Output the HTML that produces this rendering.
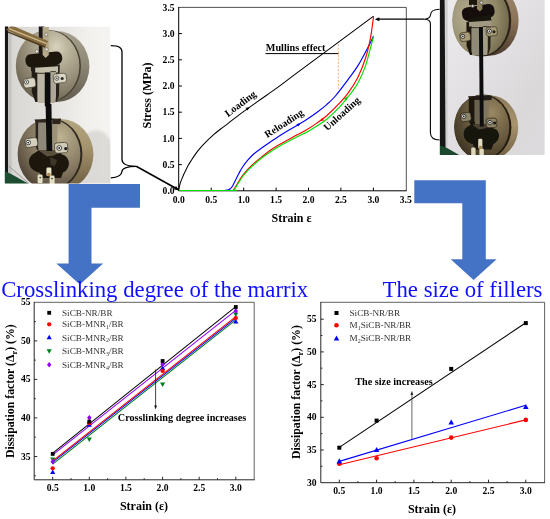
<!DOCTYPE html>
<html lang="en"><head><meta charset="utf-8"><title>Graphical abstract</title>
<style>
html,body{margin:0;padding:0;background:#fff;}
body{width:550px;height:519px;overflow:hidden;font-family:"Liberation Serif", "DejaVu Serif", serif;}
svg{display:block;}
text{font-family:"Liberation Serif", "DejaVu Serif", serif;}
.tk{font-size:9.6px;font-weight:bold;fill:#000;}
.tk2{font-size:9.6px;font-weight:bold;fill:#000;}
.ax{font-size:12px;font-weight:bold;fill:#000;}
.b10{font-size:10.2px;font-weight:bold;fill:#000;}
.lg{font-size:9.2px;fill:#333;}
.ax2{font-size:11.8px;font-weight:bold;fill:#000;}
.ttl{font-size:22.75px;fill:#1010ff;}
</style></head><body>
<svg width="550" height="519" viewBox="0 0 550 519">
<rect width="550" height="519" fill="#fff"/>

<defs>
<clipPath id="clL"><rect x="4.8" y="26.5" width="105.6" height="157"/></clipPath>
<filter id="bl06" x="-5%" y="-5%" width="110%" height="110%"><feGaussianBlur stdDeviation="0.5"/></filter>
<filter id="bl15" x="-20%" y="-20%" width="140%" height="140%"><feGaussianBlur stdDeviation="1.6"/></filter>
<linearGradient id="bgL" x1="0" y1="0" x2="1" y2="0">
<stop offset="0" stop-color="#d4d2ce"/><stop offset="0.12" stop-color="#dbd9d5"/><stop offset="0.5" stop-color="#e6e4e0"/><stop offset="0.8" stop-color="#f3f1ee"/><stop offset="1" stop-color="#f6f4f2"/>
</linearGradient>
<radialGradient id="dL1" cx="0.64" cy="0.24" r="0.88">
<stop offset="0" stop-color="#d8d3be"/><stop offset="0.2" stop-color="#bdb69e"/><stop offset="0.48" stop-color="#a09882"/><stop offset="0.76" stop-color="#7e7662"/><stop offset="1" stop-color="#5a5142"/>
</radialGradient>
<radialGradient id="dL2" cx="0.68" cy="0.26" r="0.9">
<stop offset="0" stop-color="#beb392"/><stop offset="0.25" stop-color="#a2967a"/><stop offset="0.55" stop-color="#837660"/><stop offset="0.8" stop-color="#5e5342"/><stop offset="1" stop-color="#40362a"/>
</radialGradient>
<linearGradient id="sideL1" x1="0" y1="0" x2="0" y2="1">
<stop offset="0" stop-color="#a6a08e"/><stop offset="0.45" stop-color="#8e8876"/><stop offset="1" stop-color="#625c4e"/>
</linearGradient>
<linearGradient id="sideL2" x1="0" y1="0" x2="0" y2="1">
<stop offset="0" stop-color="#b4a682"/><stop offset="0.4" stop-color="#a4936c"/><stop offset="1" stop-color="#6a5a40"/>
</linearGradient>
</defs>
<g id="photoL" clip-path="url(#clL)">
<rect x="4.8" y="26.5" width="105.6" height="157" fill="url(#bgL)"/>
<ellipse cx="96" cy="170" rx="22" ry="40" fill="#c9c7c4" opacity="0.55" filter="url(#bl15)"/>
<g filter="url(#bl06)">
<!-- left frame -->
<rect x="8" y="20" width="3.6" height="170" fill="#c2c2c0"/>
<rect x="4.6" y="20" width="3.4" height="170" fill="#141414"/>
<!-- green base -->
<path d="M4 170.5L12 174.5L29 184H4Z" fill="#1f4d30"/>
<path d="M8.5 166L29 183.5" stroke="#8e8e88" stroke-width="0.8" fill="none"/>
<!-- upper disc: side then face -->
<ellipse cx="57" cy="66.5" rx="32.4" ry="35.4" fill="url(#sideL1)"/>
<ellipse cx="48.8" cy="66" rx="32.2" ry="36" fill="#4a4232"/>
<ellipse cx="47.6" cy="65.8" rx="31.8" ry="35.6" fill="url(#dL1)"/>
<!-- vertical slot at top -->
<rect x="38.8" y="24" width="5.4" height="30" fill="#1c1812"/>
<!-- cavity band (tilted) -->
<g transform="rotate(-6 43.5 59)">
<rect x="25.4" y="52.8" width="36.8" height="13" rx="5.5" fill="#1a160f"/>
<rect x="30" y="64" width="27" height="6" fill="#1a1610"/>
</g>
<!-- side channels -->
<path d="M31.6 66.5L37.6 66V102H35.4L31.8 92Z" fill="#221d15"/>
<path d="M55.8 64.5L59.8 64.5L59 96L56.6 102H55.8Z" fill="#2a241a"/>
<!-- jaws -->
<path d="M35.2 67.8L58 66.2V72.4H35.2Z" fill="#c4bfaa"/>
<path d="M37.4 73.4H44.8V103H38.2L37.4 98Z" fill="#bab5a4"/>
<path d="M50.4 71.6H56V96L55 103H50.4Z" fill="#aca796"/>
<path d="M37.4 73.4H44.8M50.4 71.6H56" stroke="#3a3428" stroke-width="0.9" fill="none"/>
<!-- bracket bottom -->
<path d="M42.6 27H48.8V55L45.6 58L42.6 55Z" fill="#b5a98a"/>
<!-- clamp plates w/ screws -->
<rect x="23.6" y="78.2" width="12" height="9.4" rx="2.6" fill="#d9d6c6" stroke="#4a4436" stroke-width="0.7" transform="rotate(-8 29.6 82.9)"/>
<rect x="53.4" y="73.6" width="13" height="9.4" rx="2.6" fill="#d9d6c6" stroke="#4a4436" stroke-width="0.7" transform="rotate(-6 59.9 78.3)"/>
<circle cx="26.6" cy="82" r="2.1" fill="#f6f5ee" stroke="#3a3a3a" stroke-width="0.8"/><circle cx="26.6" cy="82" r="0.8" fill="#222"/>
<circle cx="56.8" cy="78.2" r="2.1" fill="#f6f5ee" stroke="#3a3a3a" stroke-width="0.8"/><circle cx="56.8" cy="78.2" r="0.8" fill="#222"/>
<circle cx="62.2" cy="78.4" r="1.5" fill="#2a261e"/>
<!-- top screws -->
<circle cx="46.2" cy="34.6" r="1.5" fill="#ecebe4" stroke="#444" stroke-width="0.5"/>
<circle cx="46.6" cy="49.4" r="1.6" fill="#ecebe4" stroke="#444" stroke-width="0.5"/>
<circle cx="36.8" cy="51.4" r="1.6" fill="#ecebe4" stroke="#444" stroke-width="0.5"/>
<!-- rod -->
<path d="M6 29.8L12 25.5L48 41L45 47.8Z" fill="#866a40"/>
<path d="M9 28.6L46.6 43.6" stroke="#cdb98c" stroke-width="1.4" fill="none"/>
<path d="M7.6 31.8L45.2 47" stroke="#4a381e" stroke-width="1.4" fill="none"/>
<!-- lower disc -->
<ellipse cx="60.8" cy="154.5" rx="32.6" ry="35.4" fill="url(#sideL2)"/>
<ellipse cx="50.4" cy="154.1" rx="32" ry="35.8" fill="#2e281e"/>
<ellipse cx="49" cy="154" rx="31.4" ry="35.2" fill="url(#dL2)"/>
<!-- lower top notch / jaws -->
<path d="M34.4 119.4L61 118.6L60.4 124L37 125Z" fill="#2e271c"/>
<path d="M35.6 121H38.4V150H37L35.6 146Z" fill="#2a241a"/>
<path d="M38.2 122.4H46.4V150.5H39.8L38.2 147Z" fill="#8e8878"/>
<path d="M52.4 124H57.4L57 144L55.6 148.5H52.4Z" fill="#9c927a"/>
<rect x="46.4" y="120" width="6" height="31" fill="#7a7464"/>
<!-- lower cavity -->
<path d="M34 153.5C30 155.5 28.2 160 29.4 164.5C30.6 169 34.6 171.6 39.6 172.6L41.6 178H61L63 172.6C67.4 170.6 69.8 166 68.6 161C67.8 157.4 65.4 155.2 62 154.4L58.6 150.4H38.4Z" fill="#1b1610"/>
<path d="M40 151.5L47 156.5L54 155.4L58.4 153V150H40Z" fill="#5a503c"/>
<path d="M50 157L57 160L55 166L50.6 165Z" fill="#3e3628"/>
<!-- lower clamp plates/screws -->
<rect x="25.2" y="138" width="12.4" height="9" rx="2.6" fill="#d4d0be" stroke="#3a3428" stroke-width="0.7" transform="rotate(-8 31.4 142.5)"/>
<rect x="54.6" y="142.6" width="13.2" height="10.4" rx="2.8" fill="#d0ccb8" stroke="#3a3428" stroke-width="0.7" transform="rotate(-4 61.2 147.8)"/>
<circle cx="28.2" cy="142.6" r="2.3" fill="#f4f3ea" stroke="#333" stroke-width="0.9"/><circle cx="28.2" cy="142.6" r="0.9" fill="#222"/>
<circle cx="59.2" cy="148" r="2.4" fill="#f4f3ea" stroke="#333" stroke-width="0.9"/><circle cx="59.2" cy="148" r="0.9" fill="#222"/>
<circle cx="65.8" cy="148.6" r="1.7" fill="#231e16"/>
<!-- bottom connectors -->
<rect x="46.4" y="167.6" width="5" height="8.4" rx="1.3" fill="#e8e4c8"/>
<rect x="37.6" y="174.6" width="5" height="8.6" rx="1.3" fill="#e4e0c4"/>
<rect x="49.6" y="175.6" width="5" height="9" rx="1.3" fill="#e4e0c4"/>
<circle cx="48.8" cy="174.6" r="1.8" fill="#a88a50"/>
<circle cx="40.2" cy="177.6" r="0.8" fill="#333"/><circle cx="52" cy="178.6" r="0.8" fill="#333"/>
<!-- specimen -->
<rect x="44.8" y="72.4" width="5.6" height="34" fill="#0e0e0e"/>
<path d="M45.6 104H51.4L52.2 151H46.6Z" fill="#0c0c0c"/>
</g>
</g>

<defs>
<clipPath id="clR"><rect x="439.8" y="-2" width="105" height="156.9"/></clipPath>
<linearGradient id="bgR" x1="0" y1="0" x2="1" y2="1">
<stop offset="0" stop-color="#ecebed"/><stop offset="0.45" stop-color="#e2e0e2"/><stop offset="0.75" stop-color="#dad8d9"/><stop offset="1" stop-color="#dddbdd"/>
</linearGradient>
<radialGradient id="dR1" cx="0.3" cy="0.45" r="0.85">
<stop offset="0" stop-color="#b6ae94"/><stop offset="0.3" stop-color="#a49c7e"/><stop offset="0.6" stop-color="#8e8664"/><stop offset="0.85" stop-color="#70664a"/><stop offset="1" stop-color="#4e4632"/>
</radialGradient>
<radialGradient id="dR2" cx="0.68" cy="0.28" r="0.9">
<stop offset="0" stop-color="#9a8a64"/><stop offset="0.25" stop-color="#7e6e4e"/><stop offset="0.55" stop-color="#62543a"/><stop offset="0.8" stop-color="#463c28"/><stop offset="1" stop-color="#2c2418"/>
</radialGradient>
<linearGradient id="sideR1" x1="0" y1="0" x2="0" y2="1">
<stop offset="0" stop-color="#a08c6c"/><stop offset="0.5" stop-color="#8a7258"/><stop offset="1" stop-color="#4a3a2c"/>
</linearGradient>
<linearGradient id="sideR2" x1="0" y1="0" x2="0" y2="1">
<stop offset="0" stop-color="#8a7a5a"/><stop offset="0.45" stop-color="#a8946e"/><stop offset="1" stop-color="#6e5c40"/>
</linearGradient>
</defs>
<g id="photoR" clip-path="url(#clR)">
<rect x="439.8" y="-2" width="105" height="157" fill="url(#bgR)"/>
<g filter="url(#bl06)">
<rect x="445.2" y="-5" width="2.4" height="165" fill="#cfcdd0"/>
<path d="M439.4 -5H444.6L445.6 160H439.4Z" fill="#151515"/>
<path d="M439 145L447 148L461 156H439Z" fill="#1f4a2e"/>
<!-- upper disc -->
<ellipse cx="489.6" cy="20.6" rx="29" ry="35.2" fill="url(#sideR1)"/>
<ellipse cx="482" cy="20.5" rx="29.2" ry="36" fill="#2a2318"/>
<ellipse cx="480.6" cy="20.4" rx="28.4" ry="35.4" fill="url(#dR1)"/>
<rect x="469" y="-3" width="8" height="8" fill="#1a150e"/>
<g transform="rotate(-9 478.2 12.6)">
<rect x="462" y="5.6" width="32.6" height="13.6" rx="5.4" fill="#14100b"/>
<rect x="467" y="17" width="23" height="5.6" fill="#19140e"/>
</g>
<path d="M477 -3H482.4V9L479.8 11.6L477 9Z" fill="#8e8260"/>
<!-- side channels -->
<path d="M466.4 22L472 21.4V55H470L466.6 46Z" fill="#1e1810"/>
<path d="M487.6 20H491L490.4 48L488.4 54H487.6Z" fill="#2a2218"/>
<!-- jaws -->
<path d="M469 22L491 20.4V26.6H469Z" fill="#a09a84"/>
<path d="M471.4 27.6H478.8V55.6H472.6L471.4 51Z" fill="#908b78"/>
<path d="M482.6 26.6H487.6V49L486.6 55H482.6Z" fill="#a29c86"/>
<path d="M471.4 27.6H478.8M482.6 26.6H487.6" stroke="#2e281e" stroke-width="0.9" fill="none"/>
<!-- plates -->
<rect x="460" y="32.4" width="10.4" height="8.8" rx="2.4" fill="#a89c78" stroke="#3a3224" stroke-width="0.7" transform="rotate(-8 465.2 36.8)"/>
<rect x="486.2" y="27" width="11" height="9" rx="2.4" fill="#a89c78" stroke="#3a3224" stroke-width="0.7" transform="rotate(-6 491.7 31.5)"/>
<circle cx="462.8" cy="36.4" r="2.1" fill="#eceae2" stroke="#2a2a2a" stroke-width="0.9"/><circle cx="462.8" cy="36.4" r="0.8" fill="#222"/>
<circle cx="489.4" cy="31.2" r="2.1" fill="#eceae2" stroke="#2a2a2a" stroke-width="0.9"/><circle cx="489.4" cy="31.2" r="0.8" fill="#222"/>
<circle cx="494" cy="31.8" r="1.5" fill="#221c14"/>
<circle cx="472.6" cy="6" r="1.5" fill="#e6e4dc" stroke="#333" stroke-width="0.6"/>
<circle cx="481.4" cy="2.6" r="1.5" fill="#e6e4dc" stroke="#333" stroke-width="0.6"/>
<!-- lower disc -->
<ellipse cx="490" cy="127.4" rx="28.2" ry="32" fill="url(#sideR2)"/>
<ellipse cx="483" cy="127.2" rx="28.4" ry="32.6" fill="#221a10"/>
<ellipse cx="481.7" cy="127" rx="27.6" ry="32" fill="url(#dR2)"/>
<path d="M468 96.2L492 95.4L491.4 100L470.6 101Z" fill="#241c12"/>
<path d="M468.8 97.6H475V126.4H471.4L468.8 121Z" fill="#1c160e"/>
<path d="M474.4 100H480V124H475.6L474.4 121Z" fill="#6a6250"/>
<path d="M483.6 101.4H488.8L488.4 118L487 122.6H483.6Z" fill="#7e7660"/>
<!-- cavity -->
<path d="M468 126.4C464.6 128 463 132 464 136.4C465 140.4 468.6 143 473 144L474.6 149.6H491.4L493.4 144C497.4 142.4 499.8 138 498.8 133.6C498 130.4 495.6 128.6 492.4 128L489.6 124.6H471.4Z" fill="#17120c"/>
<path d="M473 125.4L479 129.6L485 128.6L489.4 126.4V124.4H473Z" fill="#4a4030"/>
<!-- plates -->
<rect x="460.6" y="112.6" width="10.4" height="8.8" rx="2.4" fill="#8e8468" stroke="#2a2218" stroke-width="0.7" transform="rotate(-8 465.8 117)"/>
<rect x="486.2" y="118.2" width="10.6" height="9.4" rx="2.4" fill="#8e8468" stroke="#2a2218" stroke-width="0.7" transform="rotate(-4 491.5 122.9)"/>
<circle cx="463.8" cy="116.4" r="2.2" fill="#ecebe2" stroke="#2a2a2a" stroke-width="0.9"/><circle cx="463.8" cy="116.4" r="0.9" fill="#222"/>
<circle cx="490" cy="122.6" r="2.2" fill="#ecebe2" stroke="#2a2a2a" stroke-width="0.9"/><circle cx="490" cy="122.6" r="0.9" fill="#222"/>
<circle cx="494.6" cy="122.9" r="1.5" fill="#1a140d"/>
<!-- connectors -->
<rect x="478.2" y="138.8" width="4.2" height="10" rx="1.2" fill="#e2dcc0"/>
<rect x="471.2" y="147.6" width="4.4" height="8" rx="1.2" fill="#ded8bc"/>
<rect x="479.4" y="148.6" width="4.4" height="8" rx="1.2" fill="#ded8bc"/>
<circle cx="480.4" cy="147.4" r="1.7" fill="#a88a52"/>
<!-- specimen -->
<path d="M478.9 27H482.9L483.7 126.4H479.9Z" fill="#0d0d0d"/>
</g>
</g>

<g id="topchart">
<rect x="178.7" y="7.4" width="227.6" height="183.4" fill="#fff"/>
<path d="M178.7 7.4H406.3V190.8" fill="none" stroke="#333" stroke-width="0.85"/>
<path d="M178.7 7.0V190.8H406.7" fill="none" stroke="#000" stroke-width="1"/>
<text x="178.8" y="203.3" class="tk" text-anchor="middle">0.0</text>
<text x="174.6" y="194.0" class="tk" text-anchor="end">0.0</text>
<path d="M211.2 190.8v-3.2M178.7 164.6h3.2" stroke="#000" stroke-width="1" fill="none"/>
<text x="211.2" y="203.3" class="tk" text-anchor="middle">0.5</text>
<text x="174.6" y="167.8" class="tk" text-anchor="end">0.5</text>
<path d="M243.7 190.8v-3.2M178.7 138.4h3.2" stroke="#000" stroke-width="1" fill="none"/>
<text x="243.7" y="203.3" class="tk" text-anchor="middle">1.0</text>
<text x="174.6" y="141.6" class="tk" text-anchor="end">1.0</text>
<path d="M276.1 190.8v-3.2M178.7 112.2h3.2" stroke="#000" stroke-width="1" fill="none"/>
<text x="276.1" y="203.3" class="tk" text-anchor="middle">1.5</text>
<text x="174.6" y="115.4" class="tk" text-anchor="end">1.5</text>
<path d="M308.5 190.8v-3.2M178.7 86.0h3.2" stroke="#000" stroke-width="1" fill="none"/>
<text x="308.5" y="203.3" class="tk" text-anchor="middle">2.0</text>
<text x="174.6" y="89.2" class="tk" text-anchor="end">2.0</text>
<path d="M340.9 190.8v-3.2M178.7 59.8h3.2" stroke="#000" stroke-width="1" fill="none"/>
<text x="340.9" y="203.3" class="tk" text-anchor="middle">2.5</text>
<text x="174.6" y="63.0" class="tk" text-anchor="end">2.5</text>
<path d="M373.4 190.8v-3.2M178.7 33.6h3.2" stroke="#000" stroke-width="1" fill="none"/>
<text x="373.4" y="203.3" class="tk" text-anchor="middle">3.0</text>
<text x="174.6" y="36.8" class="tk" text-anchor="end">3.0</text>
<text x="405.8" y="203.3" class="tk" text-anchor="middle">3.5</text>
<text x="174.6" y="10.6" class="tk" text-anchor="end">3.5</text>
<text x="291.6" y="222.3" class="ax" text-anchor="middle">Strain ε</text>
<text transform="translate(151.3 95.5) rotate(-90)" class="ax" text-anchor="middle">Stress (MPa)</text>
<path d="M178.5 190.7C178.8 189.5 179.5 185.7 180.1 183.6C180.7 181.5 181.6 179.7 182.3 177.9C183.0 176.1 183.5 174.9 184.5 172.8C185.5 170.8 186.9 167.8 188.1 165.6C189.3 163.4 190.5 161.7 191.7 159.8C192.9 157.9 194.1 156.1 195.3 154.4C196.5 152.7 197.1 151.7 198.9 149.6C200.7 147.5 203.8 144.1 206.2 141.7C208.6 139.2 211.0 137.0 213.4 134.9C215.8 132.8 218.2 130.9 220.6 129.0C223.0 127.1 224.9 125.9 227.9 123.6C230.9 121.3 233.5 119.0 238.5 115.3C243.5 111.6 251.4 106.0 257.8 101.4C264.2 96.8 270.0 93.0 277.0 87.9C284.0 82.8 283.9 82.7 300.0 70.7C316.1 58.8 361.3 25.3 373.6 16.2" fill="none" stroke="#000" stroke-width="1.05" stroke-linejoin="round"/>
<path d="M179.0 190.5C186.0 190.5 213.2 190.5 221.0 190.5C228.8 190.5 224.2 190.4 225.5 190.3C226.8 190.2 227.7 190.0 228.5 189.7C229.3 189.4 229.9 189.1 230.6 188.5C231.2 187.9 231.7 187.3 232.4 186.2C233.1 185.1 233.7 183.7 234.7 181.7C235.7 179.7 237.3 176.4 238.6 174.0C239.9 171.6 240.8 169.7 242.4 167.3C244.0 164.9 246.3 161.9 248.2 159.7C250.1 157.4 251.8 155.8 254.0 153.8C256.2 151.9 259.2 149.8 261.7 148.0C264.2 146.2 266.1 144.8 268.9 142.9C271.7 141.0 275.3 138.7 278.5 136.6C281.7 134.5 285.0 132.5 288.2 130.6C291.4 128.7 294.6 126.8 297.8 124.9C301.0 123.0 304.2 121.2 307.4 119.1C310.6 117.0 313.9 114.7 317.1 112.3C320.3 109.9 323.6 107.3 326.7 104.6C329.8 101.9 331.8 100.2 335.4 96.0C339.0 91.8 344.5 84.4 348.2 79.4C351.9 74.4 354.6 71.1 357.8 65.9C361.0 60.8 364.8 53.5 367.4 48.5C370.0 43.5 372.6 38.1 373.6 36.0" fill="none" stroke="#0000ff" stroke-width="1.15" stroke-linejoin="round"/>
<path d="M179.0 190.5C187.8 190.5 222.5 190.6 231.5 190.5C240.5 190.4 232.7 190.4 233.2 190.0C233.7 189.6 233.8 189.6 234.7 188.2C235.6 186.8 237.3 183.8 238.6 181.7C239.9 179.6 240.8 178.0 242.4 175.9C244.0 173.8 246.3 171.1 248.2 169.0C250.1 166.9 251.8 165.4 254.0 163.4C256.2 161.4 259.2 158.9 261.7 156.9C264.2 154.9 266.1 153.3 268.9 151.3C271.7 149.3 275.3 147.0 278.5 145.1C281.7 143.2 285.0 141.5 288.2 139.7C291.4 137.9 294.6 136.2 297.8 134.5C301.0 132.8 304.2 131.2 307.4 129.3C310.6 127.4 313.9 125.2 317.1 122.9C320.3 120.7 322.9 119.2 326.7 115.8C330.5 112.4 336.4 106.5 340.0 102.7C343.6 98.9 345.2 97.1 348.2 92.9C351.2 88.7 354.9 83.2 357.8 77.4C360.7 71.6 363.4 64.6 365.5 58.2C367.6 51.8 368.9 45.9 370.3 38.9C371.7 31.9 373.1 20.0 373.6 16.2" fill="none" stroke="#ff0000" stroke-width="1.15" stroke-linejoin="round"/>
<path d="M179.0 190.5C187.8 190.5 222.7 190.6 231.8 190.5C240.9 190.4 233.0 190.4 233.5 190.1C234.0 189.8 234.1 189.8 235.0 188.5C235.9 187.2 237.6 184.2 238.9 182.2C240.2 180.2 241.1 178.6 242.7 176.5C244.3 174.4 246.6 171.8 248.5 169.7C250.4 167.6 252.1 166.2 254.3 164.2C256.6 162.2 259.5 159.8 262.0 157.8C264.5 155.8 266.5 154.3 269.3 152.4C272.1 150.5 275.7 148.3 278.9 146.4C282.1 144.5 285.4 142.9 288.6 141.2C291.8 139.5 295.1 137.8 298.3 136.2C301.5 134.6 304.8 133.2 308.0 131.4C311.2 129.6 314.5 127.7 317.7 125.6C320.9 123.5 323.6 122.0 327.3 118.8C331.0 115.6 336.5 110.3 340.0 106.6C343.5 102.9 345.2 100.6 348.2 96.7C351.2 92.8 354.9 88.3 357.8 83.2C360.7 78.1 363.4 71.7 365.5 65.9C367.6 60.1 368.9 53.5 370.3 48.5C371.7 43.5 373.1 38.1 373.6 36.0" fill="none" stroke="#00e000" stroke-width="1.15" stroke-linejoin="round"/>
<text x="265.8" y="51.2" class="b10">Mullins effect</text>
<path d="M265.5 53.6H338.5" stroke="#000" stroke-width="1"/>
<path d="M338.4 44V90" stroke="#f4a060" stroke-width="0.85" stroke-dasharray="2 1.6"/>
<text transform="translate(242.4 106.3) rotate(-37)" class="b10" text-anchor="middle">Loading</text>
<text transform="translate(285.8 126.2) rotate(-33)" class="b10" text-anchor="middle">Reloading</text>
<text transform="translate(344 116.2) rotate(-42)" class="b10" text-anchor="middle">Unloading</text>
<path d="M249.8 107.2l-4.2 0.6l1.8 2.6z" fill="#000"/>
<path d="M300.6 123.3l-4.2 0.6l1.8 2.6z" fill="#0000ff"/>
<path d="M319.8 121.0l4.2-0.6l-1.8-2.6z" fill="#ff0000"/>
<path d="M347.5 96.5l-3.6 2.2l2.6 1.8z" fill="#00c000"/>
<path d="M377.5 19.2H424.5" stroke="#000" stroke-width="1.3"/>
<path d="M374.8 19.2l4.6 -2v4z" fill="#000"/>
<path d="M439.6 9.2C433 9.4 431 11 430.6 14.5C430.2 17.5 428.5 19 424.5 19.2C428.5 19.4 430.3 20.7 430.4 23.5V133C430.6 137.5 433 139.8 439.6 140" fill="none" stroke="#000" stroke-width="1.1"/>
<path d="M110.8 45.7C118 45.8 121.9 47 122 52V159.5C122.2 164 125.6 166.2 136.2 166.3C126 166.5 122.4 168.2 122 171.2C121.6 175.4 118 177.6 110.8 177.8" fill="none" stroke="#000" stroke-width="1.3"/>
<path d="M136.2 166.3L177.6 189.3" stroke="#000" stroke-width="1.55"/><path d="M179.4 190.5l-5.4-1.1l1.9-3.4z" fill="#000"/>
</g>
<path d="M68.6 184H140V207.8H91.5V263.6H103.1L79.9 284.6L56.4 263.6H68.6Z" fill="#4472c4"/>
<path d="M414.3 180.2H485.8V259.3H496.6L473.6 280L450.7 259.3H462.3V203.2H414.3Z" fill="#4472c4"/>
<text x="1.2" y="296.7" class="ttl">Crosslinking degree of the marrix</text>
<text x="382.6" y="296.7" class="ttl">The size of fillers</text>
<g id="leftchart">
<rect x="34.2" y="302.3" width="220.0" height="177.5" fill="#fff"/>
<path d="M34.2 302.3H254.2V479.8" fill="none" stroke="#444" stroke-width="0.85"/>
<path d="M34.2 301.90000000000003V479.8H254.6" fill="none" stroke="#1a1a1a" stroke-width="0.95"/>
<text x="52.7" y="491.0" class="tk2" text-anchor="middle">0.5</text>
<text x="89.3" y="491.0" class="tk2" text-anchor="middle">1.0</text>
<text x="125.9" y="491.0" class="tk2" text-anchor="middle">1.5</text>
<text x="162.6" y="491.0" class="tk2" text-anchor="middle">2.0</text>
<text x="199.2" y="491.0" class="tk2" text-anchor="middle">2.5</text>
<text x="235.8" y="491.0" class="tk2" text-anchor="middle">3.0</text>
<text x="30.6" y="459.5" class="tk2" text-anchor="end">35</text>
<text x="30.6" y="420.9" class="tk2" text-anchor="end">40</text>
<text x="30.6" y="382.4" class="tk2" text-anchor="end">45</text>
<text x="30.6" y="343.9" class="tk2" text-anchor="end">50</text>
<text x="30.6" y="305.3" class="tk2" text-anchor="end">55</text>
<path d="M52.7 479.8v-3M89.3 479.8v-3M125.9 479.8v-3M162.6 479.8v-3M199.2 479.8v-3M235.8 479.8v-3M71.0 479.8v-1.6M107.6 479.8v-1.6M144.2 479.8v-1.6M180.9 479.8v-1.6M217.5 479.8v-1.6M34.2 456.5h3M34.2 417.9h3M34.2 379.4h3M34.2 340.9h3M34.2 475.8h1.6M34.2 437.2h1.6M34.2 398.7h1.6M34.2 360.1h1.6M34.2 321.6h1.6" stroke="#111" stroke-width="0.9" fill="none"/>
<text x="144" y="509.5" class="ax" text-anchor="middle">Strain (ε)</text>
<text transform="translate(14.4 391.2) rotate(-90)" class="ax2" text-anchor="middle">Dissipation factor (Δ<tspan font-size="8.5" dy="2.5">r</tspan><tspan dy="-2.5">) (%)</tspan></text>
<path d="M52.7 464.1L235.8 319.9" stroke="#007a1e" stroke-width="1.05"/>
<path d="M52.7 462.2L235.8 318.2" stroke="#0000ff" stroke-width="1.05"/>
<path d="M52.7 460.9L235.8 316.6" stroke="#ff0000" stroke-width="1.05"/>
<path d="M52.7 454.8L235.8 310.4" stroke="#9000ff" stroke-width="1.05"/>
<path d="M52.7 453.2L235.8 306.6" stroke="#000000" stroke-width="1.05"/>
<path d="M52.7 461.9L55.3 457.4H50.1Z" fill="#008020"/>
<path d="M89.3 441.9L91.9 437.4H86.7Z" fill="#008020"/>
<path d="M162.6 387.0L165.2 382.4H160.0Z" fill="#008020"/>
<path d="M235.8 316.9L238.4 312.4H233.2Z" fill="#008020"/>
<path d="M52.7 469.5L55.3 474.1H50.1Z" fill="#0000ff"/>
<path d="M89.3 422.3L91.9 426.8H86.7Z" fill="#0000ff"/>
<path d="M162.6 365.6L165.2 370.1H160.0Z" fill="#0000ff"/>
<path d="M235.8 318.9L238.4 323.4H233.2Z" fill="#0000ff"/>
<circle cx="52.7" cy="468.3" r="2.15" fill="#ff0000"/>
<circle cx="89.3" cy="423.2" r="2.15" fill="#ff0000"/>
<circle cx="162.6" cy="370.9" r="2.15" fill="#ff0000"/>
<circle cx="235.8" cy="318.1" r="2.15" fill="#ff0000"/>
<path d="M52.7 458.9L54.9 461.7L52.7 464.5L50.5 461.7Z" fill="#9000ff"/>
<path d="M89.3 414.9L91.6 417.7L89.3 420.5L87.1 417.7Z" fill="#9000ff"/>
<path d="M162.6 361.4L164.8 364.2L162.6 367.0L160.3 364.2Z" fill="#9000ff"/>
<path d="M235.8 308.1L238.0 310.9L235.8 313.7L233.6 310.9Z" fill="#9000ff"/>
<rect x="50.8" y="452.0" width="3.8" height="3.8" fill="#000"/>
<rect x="87.4" y="419.7" width="3.8" height="3.8" fill="#000"/>
<rect x="160.7" y="359.1" width="3.8" height="3.8" fill="#000"/>
<rect x="233.9" y="305.1" width="3.8" height="3.8" fill="#000"/>
<rect x="47.3" y="310.9" width="3.8" height="3.8" fill="#000"/>
<text x="62" y="315.9" class="lg">SiCB-NR/BR</text>
<circle cx="49.2" cy="324.3" r="2.15" fill="#ff0000"/>
<text x="62" y="327.4" class="lg">SiCB-MNR<tspan font-size="6" dy="1.8">1</tspan><tspan dy="-1.8">/BR</tspan></text>
<path d="M49.2 334.8L51.8 339.3H46.6Z" fill="#0000ff"/>
<text x="62" y="340.5" class="lg">SiCB-MNR<tspan font-size="6" dy="1.8">2</tspan><tspan dy="-1.8">/BR</tspan></text>
<path d="M49.2 353.7L51.8 349.2H46.6Z" fill="#008020"/>
<text x="62" y="354.2" class="lg">SiCB-MNR<tspan font-size="6" dy="1.8">3</tspan><tspan dy="-1.8">/BR</tspan></text>
<path d="M49.2 361.9L51.4 364.7L49.2 367.5L47.0 364.7Z" fill="#9000ff"/>
<text x="62" y="367.8" class="lg">SiCB-MNR<tspan font-size="6" dy="1.8">4</tspan><tspan dy="-1.8">/BR</tspan></text>
<path d="M155.6 369.5V406" stroke="#111" stroke-width="0.8"/>
<path d="M155.6 409.6l-1.4 -4.2h2.8z" fill="#111"/>
<text x="117.8" y="420.6" class="b10">Crosslinking degree increases</text>
</g>
<g id="rightchart">
<rect x="320.8" y="302.3" width="223.8" height="180.4" fill="#fff"/>
<path d="M320.8 302.3H544.6V482.7" fill="none" stroke="#444" stroke-width="0.85"/>
<path d="M320.8 301.90000000000003V482.7H545.0" fill="none" stroke="#1a1a1a" stroke-width="0.95"/>
<text x="339.3" y="494.0" class="tk2" text-anchor="middle">0.5</text>
<text x="376.6" y="494.0" class="tk2" text-anchor="middle">1.0</text>
<text x="413.9" y="494.0" class="tk2" text-anchor="middle">1.5</text>
<text x="451.2" y="494.0" class="tk2" text-anchor="middle">2.0</text>
<text x="488.5" y="494.0" class="tk2" text-anchor="middle">2.5</text>
<text x="525.8" y="494.0" class="tk2" text-anchor="middle">3.0</text>
<text x="316.6" y="485.7" class="tk2" text-anchor="end">30</text>
<text x="316.6" y="453.0" class="tk2" text-anchor="end">35</text>
<text x="316.6" y="420.3" class="tk2" text-anchor="end">40</text>
<text x="316.6" y="387.6" class="tk2" text-anchor="end">45</text>
<text x="316.6" y="354.9" class="tk2" text-anchor="end">50</text>
<text x="316.6" y="322.2" class="tk2" text-anchor="end">55</text>
<path d="M339.3 482.7v-3M376.6 482.7v-3M413.9 482.7v-3M451.2 482.7v-3M488.5 482.7v-3M525.8 482.7v-3M357.9 482.7v-1.6M395.2 482.7v-1.6M432.6 482.7v-1.6M469.9 482.7v-1.6M507.1 482.7v-1.6M320.8 450.0h3M320.8 417.3h3M320.8 384.6h3M320.8 351.9h3M320.8 319.2h3M320.8 466.3h1.6M320.8 433.6h1.6M320.8 400.9h1.6M320.8 368.2h1.6M320.8 335.5h1.6" stroke="#111" stroke-width="0.9" fill="none"/>
<text x="432" y="512.5" class="ax" text-anchor="middle">Strain (ε)</text>
<text transform="translate(300.4 392.1) rotate(-90)" class="ax2" text-anchor="middle">Dissipation factor (Δ<tspan font-size="8.5" dy="2.5">r</tspan><tspan dy="-2.5">) (%)</tspan></text>
<path d="M339.3 447.4L525.8 322.8" stroke="#000000" stroke-width="1.1"/>
<path d="M339.3 461.4L525.8 405.2" stroke="#0000ff" stroke-width="1.1"/>
<path d="M339.3 464.7L525.8 419.9" stroke="#ff0000" stroke-width="1.1"/>
<rect x="337.3" y="445.7" width="4.0" height="4.0" fill="#000"/>
<rect x="374.6" y="418.6" width="4.0" height="4.0" fill="#000"/>
<rect x="449.2" y="366.9" width="4.0" height="4.0" fill="#000"/>
<rect x="523.8" y="321.1" width="4.0" height="4.0" fill="#000"/>
<circle cx="339.3" cy="463.7" r="2.3" fill="#ff0000"/>
<circle cx="376.6" cy="458.2" r="2.3" fill="#ff0000"/>
<circle cx="451.2" cy="437.6" r="2.3" fill="#ff0000"/>
<circle cx="525.8" cy="419.9" r="2.3" fill="#ff0000"/>
<path d="M339.3 458.3L342.1 463.4H336.5Z" fill="#0000ff"/>
<path d="M376.6 446.9L379.4 451.9H373.8Z" fill="#0000ff"/>
<path d="M451.2 419.4L454.0 424.4H448.4Z" fill="#0000ff"/>
<path d="M525.8 404.0L528.6 409.1H523.0Z" fill="#0000ff"/>
<rect x="334.5" y="311.0" width="4.0" height="4.0" fill="#000"/>
<text x="349.5" y="316.1" class="lg">SiCB-NR/BR</text>
<circle cx="336.5" cy="325.3" r="2.3" fill="#ff0000"/>
<text x="349.5" y="328.4" class="lg">M<tspan font-size="6" dy="1.8">1</tspan><tspan dy="-1.8">SiCB-NR/BR</tspan></text>
<path d="M336.5 335.5L339.3 340.5H333.7Z" fill="#0000ff"/>
<text x="349.5" y="341.4" class="lg">M<tspan font-size="6" dy="1.8">2</tspan><tspan dy="-1.8">SiCB-NR/BR</tspan></text>
<path d="M411.9 394V438.8" stroke="#333" stroke-width="0.75"/>
<path d="M411.9 390.8l-1.4 4.2h2.8z" fill="#222"/>
<text x="355.3" y="384.8" class="b10">The size increases</text>
</g>
</svg></body></html>
